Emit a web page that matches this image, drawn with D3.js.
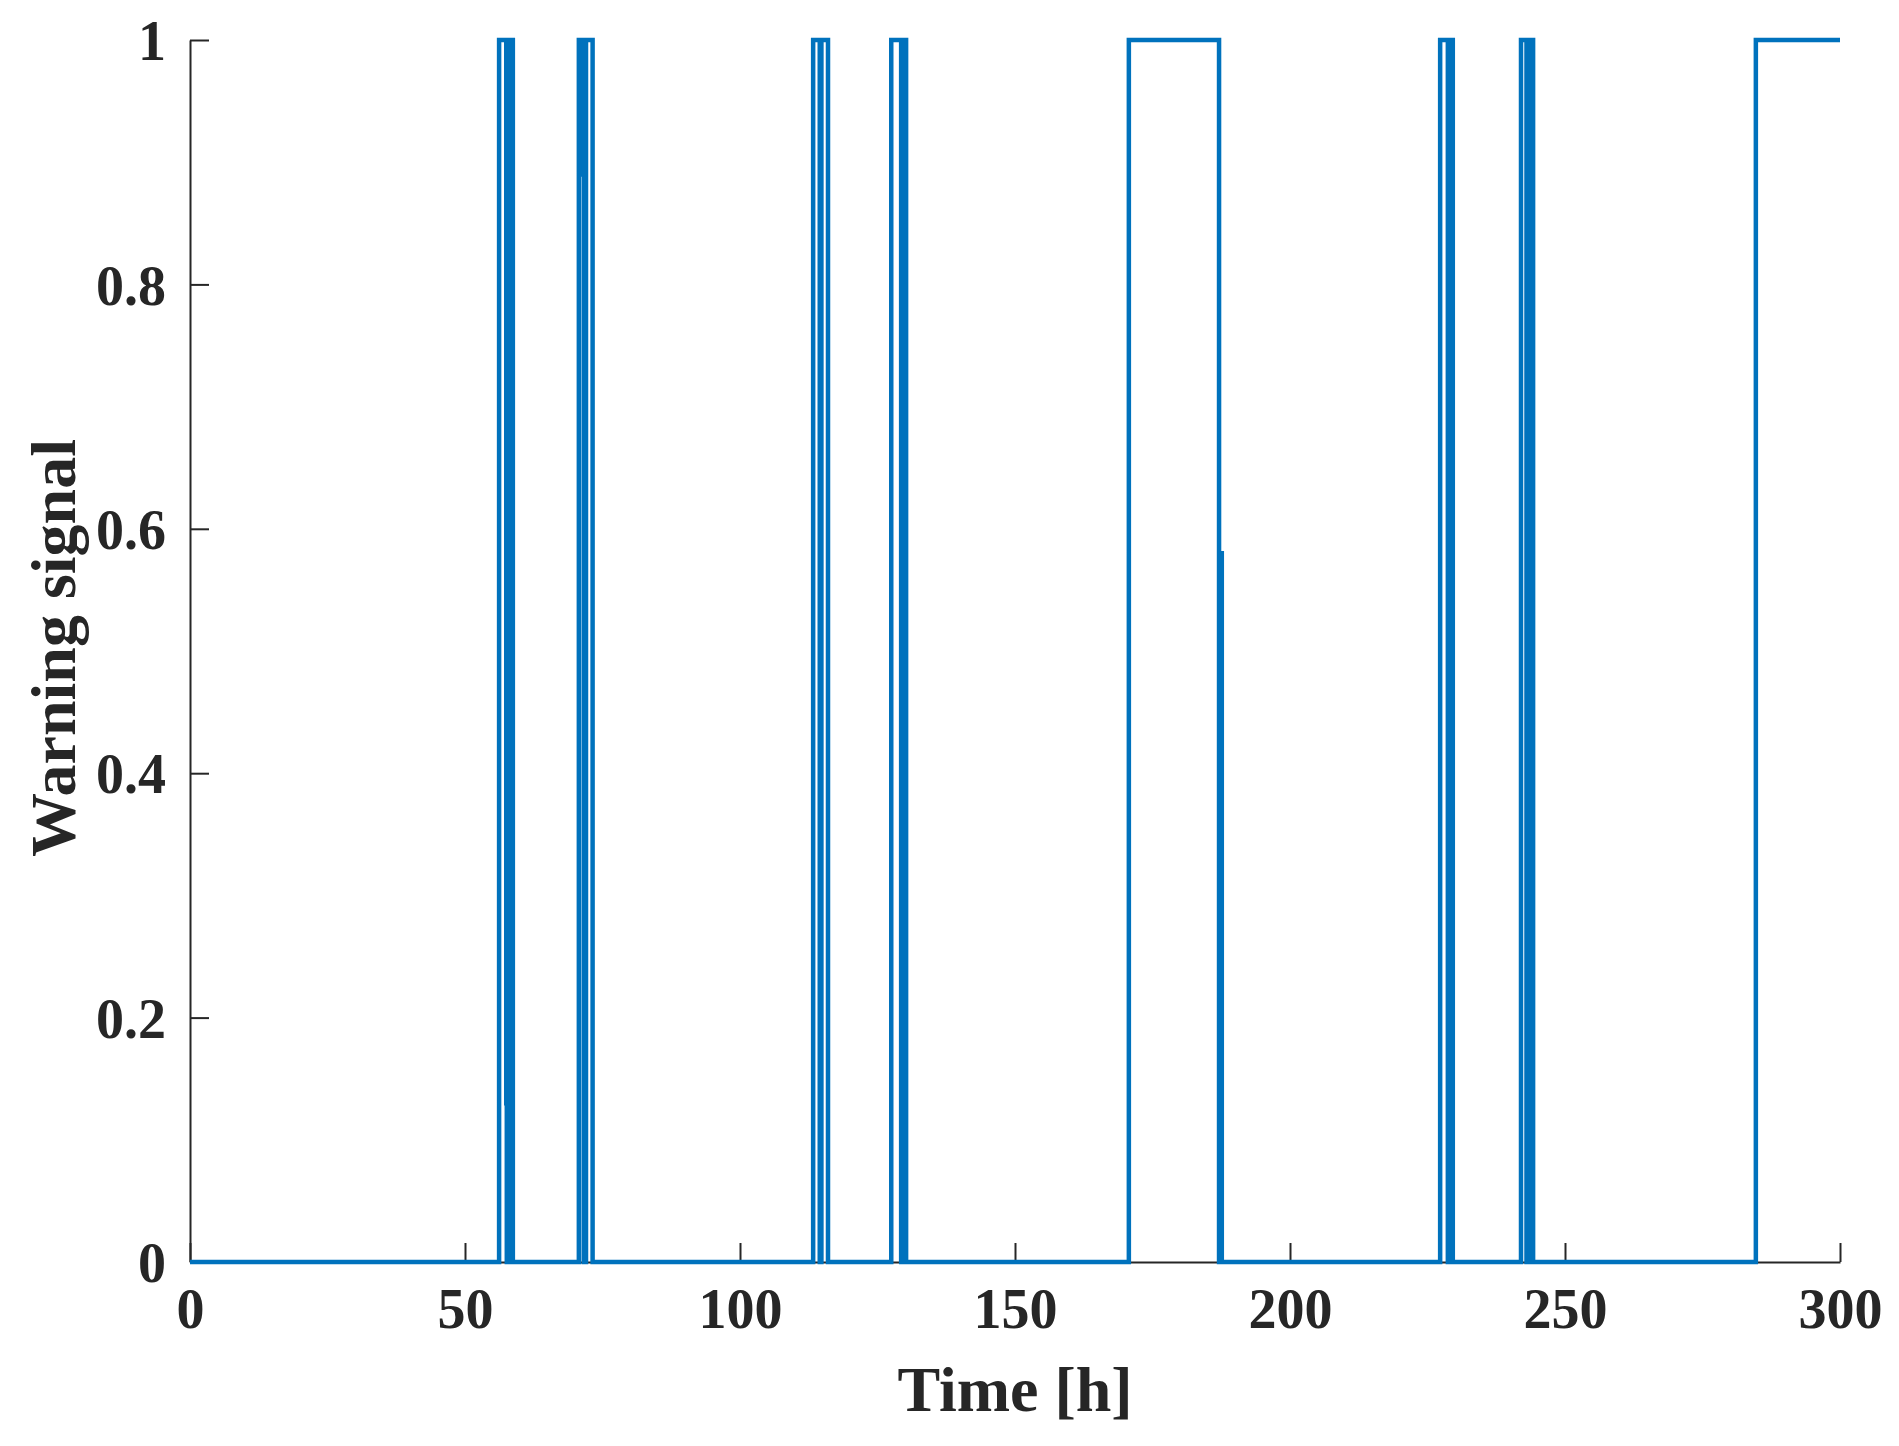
<!DOCTYPE html><html><head><meta charset="utf-8"><script src="https://cdn.jsdelivr.net/npm/d3@7"></script>
<style>body{margin:0;background:#fff}</style></head><body><svg id="c" width="1899" height="1446"></svg><script>
// step signal: [time h, value] - value holds until next point
const stepTimes  = [0, 56.2, 57.5, 57.6, 57.9, 58.7, 70.7, 71.5, 71.6, 72.0, 73.2, 113.3, 114.5, 114.8, 116.0, 127.5, 129.3, 129.6, 130.2, 170.7, 187.1, 187.5, 187.6, 227.3, 228.7, 229.0, 229.6, 242.0, 243.0, 243.5, 244.2, 284.7, 300];
const stepValues = [0, 1,    0.13, 0,    1,    0,    1,    0.89, 0,    1,    0,    1,     0,     1,     0,     1,     0,     1,     0,     1,     0,     0.58,  0,     1,     0,     1,     0,     1,     0,     1,     0,     1,     1];
const xTicks = [0,50,100,150,200,250,300];
const yTicks = [0,0.2,0.4,0.6,0.8,1];
const svg=d3.select("#c");
const L=190,R=1840,T=40,B=1262;
const x=d3.scaleLinear().domain([0,300]).range([L,R]);
const y=d3.scaleLinear().domain([0,1]).range([B,T]);
const font="'Liberation Serif','Times New Roman',serif";
const gx=svg.append("g").attr("transform",`translate(0,${B})`).call(d3.axisBottom(x).tickValues(xTicks).tickFormat(d3.format("d")).tickSizeInner(-19).tickSizeOuter(0).tickPadding(26));
const gy=svg.append("g").attr("transform",`translate(${L},0)`).call(d3.axisLeft(y).tickValues(yTicks).tickFormat(d=>d===0||d===1?String(d):d3.format(".1f")(d)).tickSizeInner(-19).tickSizeOuter(0).tickPadding(24));
[gx,gy].forEach(g=>{g.selectAll("path,line").attr("stroke","#262626").attr("stroke-width",2);
 g.selectAll("text").attr("font-family",font).attr("font-weight","bold").attr("font-size",56).attr("fill","#262626");});
gy.selectAll("text").attr("dy","0.35em");
const data=stepTimes.map((t,i)=>[t,stepValues[i]]);
svg.append("path").datum(data).attr("fill","none").attr("stroke","#0072BD").attr("stroke-width",4.5)
 .attr("d",d3.line().x(d=>x(d[0])).y(d=>y(d[1])).curve(d3.curveStepAfter));
svg.append("text").attr("x",1015).attr("y",1411).attr("text-anchor","middle").attr("font-family",font).attr("font-weight","bold").attr("font-size",64).attr("fill","#262626").text("Time [h]");
svg.append("text").attr("transform",`translate(75,648) rotate(-90)`).attr("text-anchor","middle").attr("font-family",font).attr("font-weight","bold").attr("font-size",64).attr("fill","#262626").text("Warning signal");
</script></body></html>
